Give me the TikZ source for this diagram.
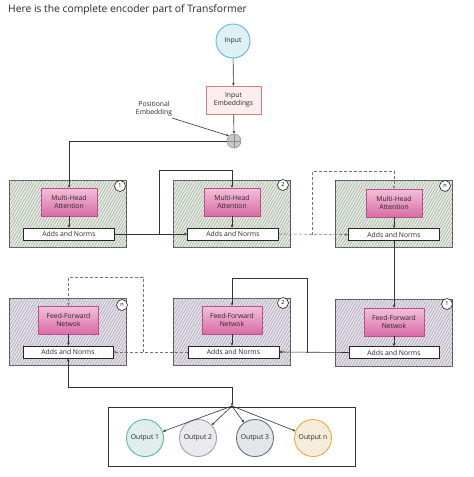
\documentclass[tikz,border=0pt]{standalone}
\usepackage{fontspec}
\setmainfont{Open Sans}
\usetikzlibrary{patterns.meta,arrows.meta,shapes.geometric}
\definecolor{greenbg}{HTML}{E4ECE0}
\definecolor{purplebg}{HTML}{E6E0EE}
\definecolor{hatchc}{HTML}{8E938E}
\definecolor{pinktop}{HTML}{F3C0DA}
\definecolor{pinkbot}{HTML}{D96CA7}
\definecolor{pinkline}{HTML}{B94E88}
\definecolor{inblue}{HTML}{DDF1F5}
\definecolor{inline}{HTML}{5DB9C9}
\definecolor{embfill}{HTML}{FCEEEE}
\definecolor{embline}{HTML}{D27C7C}
\definecolor{o1line}{HTML}{4DB6AC}
\definecolor{o1fill}{HTML}{E3F4F1}
\definecolor{o2line}{HTML}{9C9CB6}
\definecolor{o2fill}{HTML}{EFEFF4}
\definecolor{o3line}{HTML}{5E6C7A}
\definecolor{o3fill}{HTML}{E7EBEF}
\definecolor{online}{HTML}{EEA838}
\definecolor{onfill}{HTML}{FDF3DC}
\tikzset{
  lab/.style={font=\fontsize{6.8}{7.6}\selectfont, text=black!85, align=center},
  encbox/.style={rectangle, draw=black!65, line width=0.6pt, fill=#1,
    postaction={pattern={Lines[angle=60,distance=2.4pt,line width=0.35pt]}, pattern color=hatchc},
    minimum width=117pt, minimum height=67pt, inner sep=0pt},
  pinkbox/.style={lab, rectangle, draw=pinkline, line width=0.5pt, top color=pinktop, bottom color=pinkbot,
    minimum width=56pt, minimum height=28pt, inner sep=0pt},
  addbox/.style={lab, rectangle, draw=black!85, line width=0.6pt, fill=white,
    minimum width=91pt, minimum height=12pt, inner sep=0pt},
  badge/.style={circle, draw=black!85, line width=0.6pt, fill=white, minimum size=11pt, inner sep=0pt,
    font=\fontsize{5.5}{5.5}\selectfont},
  conn/.style={draw=black!80, line width=0.6pt, -{Stealth[length=3pt,width=2.6pt]}},
  dconn/.style={conn, draw=black!55, dash pattern=on 3pt off 2pt},
  outc/.style={lab, circle, line width=0.9pt, minimum size=37pt, inner sep=0pt,
    postaction={pattern={Lines[angle=60,distance=2.4pt,line width=0.25pt]}, pattern color=black!18}},
}
\begin{document}
\begin{tikzpicture}[x=1pt,y=-1pt]
\useasboundingbox[fill=white] (0,0) rectangle (474,477);

\node[anchor=west, font=\fontsize{10.3}{12}\selectfont, text=black!85, inner sep=0pt] (title) at (8,10) {Here is the complete encoder part of Transformer};

% input part
\node[lab, circle, draw=inline, line width=0.9pt, fill=inblue, minimum size=34pt, inner sep=0pt] (in) at (233,41) {Input};
\node[lab, rectangle, draw=embline, line width=0.6pt, fill=embfill, minimum width=55pt, minimum height=28pt, inner sep=0pt] (emb) at (233.5,100) {Input\\Embeddings};
\node[lab, inner sep=0pt] (pos) at (154,109) {Positional\\Embedding};
\node[circle, draw=black!45, fill=black!22, line width=0.5pt, minimum size=14pt, inner sep=0pt,
  path picture={\draw[black!45, line width=0.4pt] (path picture bounding box.north) -- (path picture bounding box.south) (path picture bounding box.west) -- (path picture bounding box.east);}] (sum) at (234,141) {};

\draw[conn] (in) -- (emb);
\draw[conn] (emb) -- (sum);
\coordinate (posend) at (172,118);
\draw[conn] (posend) -- (sum.north west);

% encoder row 1
\node[encbox=greenbg] (b1) at (68,213.5) {};
\node[encbox=greenbg] (b2) at (231.5,213.5) {};
\node[encbox=greenbg] (b3) at (394,213.5) {};
\node[badge] (k1) at (120,186) {1};
\node[badge] (k2) at (283,185) {2};
\node[badge] (k3) at (445,186) {n};
\node[pinkbox] (m1) at (69,202) {Multi-Head\\Attention};
\node[pinkbox] (m2) at (232,202) {Multi-Head\\Attention};
\node[pinkbox] (m3) at (394,203) {Multi-Head\\Attention};
\node[addbox] (a1) at (69,234) {Adds and Norms};
\node[addbox] (a2) at (233,234) {Adds and Norms};
\node[addbox] (a3) at (394,234.5) {Adds and Norms};

\draw[conn] (sum.west) -| (m1.north);
\draw[conn] (m1.south) -- (a1.north -| m1.south);
\draw[conn] (m2.south) -- (a2.north -| m2.south);
\draw[conn] (m3.south) -- (a3.north);

\coordinate (j1) at (159,234);
\coordinate (j1u) at (159,170);
\draw[conn] (a1.east) -- (a2.west);
\draw[conn] (j1) -- (j1u) -| (m2.north);

\coordinate (j2) at (312,234.5);
\coordinate (j2u) at (312,171);
\draw[dconn] (a2.east) -- (a3.west);
\draw[dconn] (j2) -- (j2u) -| (m3.north);

% encoder row 2
\node[encbox=purplebg] (c3) at (68,332) {};
\node[encbox=purplebg] (c2) at (232,332) {};
\node[encbox=purplebg] (c1) at (394,332.5) {};
\node[badge] (l3) at (122,305) {n};
\node[badge] (l2) at (283,303) {2};
\node[badge] (l1) at (447,304) {1};
\node[pinkbox, minimum width=60pt] (f3) at (68.5,320) {Feed-Forward\\Netwok};
\node[pinkbox, minimum width=60pt] (f2) at (232,320) {Feed-Forward\\Netwok};
\node[pinkbox, minimum width=60pt] (f1) at (394,322) {Feed-Forward\\Netwok};
\node[addbox, minimum width=90pt] (e3) at (68,352) {Adds and Norms};
\node[addbox] (e2) at (233.5,352) {Adds and Norms};
\node[addbox, minimum width=90pt] (e1) at (394,352.5) {Adds and Norms};

\draw[conn] (a3.south) -- (f1.north);
\draw[conn] (f1.south) -- (e1.north);
\draw[conn] (f2.south) -- (e2.north -| f2.south);
\draw[conn] (f3.south) -- (e3.north -| f3.south);

\coordinate (j3) at (307,352.5);
\coordinate (j3u) at (307,278);
\draw[conn] (e1.west) -- (e2.east);
\draw[conn] (j3) -- (j3u) -| (f2.north);

\coordinate (j4) at (143,352);
\coordinate (j4u) at (143,277);
\draw[dconn] (e2.west) -- (e3.east);
\draw[dconn] (j4) -- (j4u) -| (f3.north);

% outputs
\node[rectangle, draw=black!80, line width=0.6pt, minimum width=247pt, minimum height=59pt, inner sep=0pt] (obox) at (231.5,436.5) {};
\coordinate (fan) at (232,406);
\coordinate (turn) at (232,387);
\draw[conn, {Stealth[length=3pt,width=2.6pt]}-{Stealth[length=3pt,width=2.6pt]}] (e3.south) |- (turn) -- (fan);

\node[outc, draw=o1line, fill=o1fill] (o1) at (145,438) {Output 1};
\node[outc, draw=o2line, fill=o2fill] (o2) at (198,438) {Output 2};
\node[outc, draw=o3line, fill=o3fill] (o3) at (255,438) {Output 3};
\node[outc, draw=online, fill=onfill] (on) at (313,438) {Output n};
\draw[conn] (fan) -- (o1);
\draw[conn] (fan) -- (o2);
\draw[conn] (fan) -- (o3);
\draw[conn] (fan) -- (on);
\end{tikzpicture}
\end{document}
